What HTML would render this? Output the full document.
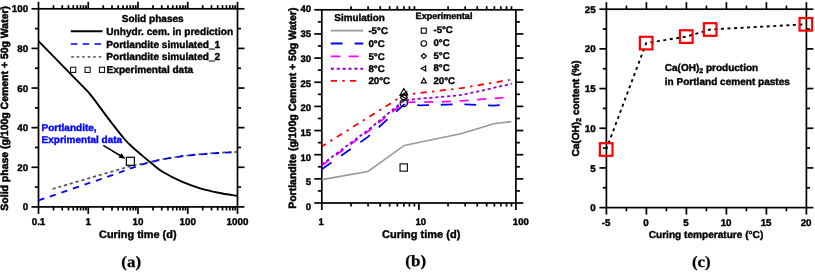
<!DOCTYPE html>
<html><head><meta charset="utf-8"><title>Figure</title>
<style>
html,body{margin:0;padding:0;background:#fff;}
svg{display:block;filter:blur(0.3px);}
.t{font-family:"Liberation Sans",Arial,Helvetica,sans-serif;font-weight:bold;stroke:#000;stroke-width:0.4px;text-rendering:geometricPrecision;}
.t[fill]{stroke:#0000ff;}
.t[transform^=rotate]{stroke-width:0.5px;}
.r{font-family:"Liberation Serif","Times New Roman",serif;font-weight:bold;stroke:#000;stroke-width:0.25px;text-rendering:geometricPrecision;}
</style></head><body>
<svg width="815" height="272" viewBox="0 0 815 272">
<rect width="815" height="272" fill="#fff"/>
<rect x="38.50" y="8.80" width="199.00" height="198.10" fill="none" stroke="#000" stroke-width="1.7"/>
<line x1="38.50" y1="206.90" x2="38.50" y2="213.90" stroke="#000" stroke-width="1.7" />
<line x1="38.50" y1="8.80" x2="38.50" y2="1.80" stroke="#000" stroke-width="1.7" />
<line x1="53.48" y1="206.90" x2="53.48" y2="210.50" stroke="#000" stroke-width="1.7" />
<line x1="53.48" y1="8.80" x2="53.48" y2="5.20" stroke="#000" stroke-width="1.7" />
<line x1="62.24" y1="206.90" x2="62.24" y2="210.50" stroke="#000" stroke-width="1.7" />
<line x1="62.24" y1="8.80" x2="62.24" y2="5.20" stroke="#000" stroke-width="1.7" />
<line x1="68.45" y1="206.90" x2="68.45" y2="210.50" stroke="#000" stroke-width="1.7" />
<line x1="68.45" y1="8.80" x2="68.45" y2="5.20" stroke="#000" stroke-width="1.7" />
<line x1="73.27" y1="206.90" x2="73.27" y2="210.50" stroke="#000" stroke-width="1.7" />
<line x1="73.27" y1="8.80" x2="73.27" y2="5.20" stroke="#000" stroke-width="1.7" />
<line x1="77.21" y1="206.90" x2="77.21" y2="210.50" stroke="#000" stroke-width="1.7" />
<line x1="77.21" y1="8.80" x2="77.21" y2="5.20" stroke="#000" stroke-width="1.7" />
<line x1="80.54" y1="206.90" x2="80.54" y2="210.50" stroke="#000" stroke-width="1.7" />
<line x1="80.54" y1="8.80" x2="80.54" y2="5.20" stroke="#000" stroke-width="1.7" />
<line x1="83.43" y1="206.90" x2="83.43" y2="210.50" stroke="#000" stroke-width="1.7" />
<line x1="83.43" y1="8.80" x2="83.43" y2="5.20" stroke="#000" stroke-width="1.7" />
<line x1="85.97" y1="206.90" x2="85.97" y2="210.50" stroke="#000" stroke-width="1.7" />
<line x1="85.97" y1="8.80" x2="85.97" y2="5.20" stroke="#000" stroke-width="1.7" />
<line x1="88.25" y1="206.90" x2="88.25" y2="213.90" stroke="#000" stroke-width="1.7" />
<line x1="88.25" y1="8.80" x2="88.25" y2="1.80" stroke="#000" stroke-width="1.7" />
<line x1="103.23" y1="206.90" x2="103.23" y2="210.50" stroke="#000" stroke-width="1.7" />
<line x1="103.23" y1="8.80" x2="103.23" y2="5.20" stroke="#000" stroke-width="1.7" />
<line x1="111.99" y1="206.90" x2="111.99" y2="210.50" stroke="#000" stroke-width="1.7" />
<line x1="111.99" y1="8.80" x2="111.99" y2="5.20" stroke="#000" stroke-width="1.7" />
<line x1="118.20" y1="206.90" x2="118.20" y2="210.50" stroke="#000" stroke-width="1.7" />
<line x1="118.20" y1="8.80" x2="118.20" y2="5.20" stroke="#000" stroke-width="1.7" />
<line x1="123.02" y1="206.90" x2="123.02" y2="210.50" stroke="#000" stroke-width="1.7" />
<line x1="123.02" y1="8.80" x2="123.02" y2="5.20" stroke="#000" stroke-width="1.7" />
<line x1="126.96" y1="206.90" x2="126.96" y2="210.50" stroke="#000" stroke-width="1.7" />
<line x1="126.96" y1="8.80" x2="126.96" y2="5.20" stroke="#000" stroke-width="1.7" />
<line x1="130.29" y1="206.90" x2="130.29" y2="210.50" stroke="#000" stroke-width="1.7" />
<line x1="130.29" y1="8.80" x2="130.29" y2="5.20" stroke="#000" stroke-width="1.7" />
<line x1="133.18" y1="206.90" x2="133.18" y2="210.50" stroke="#000" stroke-width="1.7" />
<line x1="133.18" y1="8.80" x2="133.18" y2="5.20" stroke="#000" stroke-width="1.7" />
<line x1="135.72" y1="206.90" x2="135.72" y2="210.50" stroke="#000" stroke-width="1.7" />
<line x1="135.72" y1="8.80" x2="135.72" y2="5.20" stroke="#000" stroke-width="1.7" />
<line x1="138.00" y1="206.90" x2="138.00" y2="213.90" stroke="#000" stroke-width="1.7" />
<line x1="138.00" y1="8.80" x2="138.00" y2="1.80" stroke="#000" stroke-width="1.7" />
<line x1="152.98" y1="206.90" x2="152.98" y2="210.50" stroke="#000" stroke-width="1.7" />
<line x1="152.98" y1="8.80" x2="152.98" y2="5.20" stroke="#000" stroke-width="1.7" />
<line x1="161.74" y1="206.90" x2="161.74" y2="210.50" stroke="#000" stroke-width="1.7" />
<line x1="161.74" y1="8.80" x2="161.74" y2="5.20" stroke="#000" stroke-width="1.7" />
<line x1="167.95" y1="206.90" x2="167.95" y2="210.50" stroke="#000" stroke-width="1.7" />
<line x1="167.95" y1="8.80" x2="167.95" y2="5.20" stroke="#000" stroke-width="1.7" />
<line x1="172.77" y1="206.90" x2="172.77" y2="210.50" stroke="#000" stroke-width="1.7" />
<line x1="172.77" y1="8.80" x2="172.77" y2="5.20" stroke="#000" stroke-width="1.7" />
<line x1="176.71" y1="206.90" x2="176.71" y2="210.50" stroke="#000" stroke-width="1.7" />
<line x1="176.71" y1="8.80" x2="176.71" y2="5.20" stroke="#000" stroke-width="1.7" />
<line x1="180.04" y1="206.90" x2="180.04" y2="210.50" stroke="#000" stroke-width="1.7" />
<line x1="180.04" y1="8.80" x2="180.04" y2="5.20" stroke="#000" stroke-width="1.7" />
<line x1="182.93" y1="206.90" x2="182.93" y2="210.50" stroke="#000" stroke-width="1.7" />
<line x1="182.93" y1="8.80" x2="182.93" y2="5.20" stroke="#000" stroke-width="1.7" />
<line x1="185.47" y1="206.90" x2="185.47" y2="210.50" stroke="#000" stroke-width="1.7" />
<line x1="185.47" y1="8.80" x2="185.47" y2="5.20" stroke="#000" stroke-width="1.7" />
<line x1="187.75" y1="206.90" x2="187.75" y2="213.90" stroke="#000" stroke-width="1.7" />
<line x1="187.75" y1="8.80" x2="187.75" y2="1.80" stroke="#000" stroke-width="1.7" />
<line x1="202.73" y1="206.90" x2="202.73" y2="210.50" stroke="#000" stroke-width="1.7" />
<line x1="202.73" y1="8.80" x2="202.73" y2="5.20" stroke="#000" stroke-width="1.7" />
<line x1="211.49" y1="206.90" x2="211.49" y2="210.50" stroke="#000" stroke-width="1.7" />
<line x1="211.49" y1="8.80" x2="211.49" y2="5.20" stroke="#000" stroke-width="1.7" />
<line x1="217.70" y1="206.90" x2="217.70" y2="210.50" stroke="#000" stroke-width="1.7" />
<line x1="217.70" y1="8.80" x2="217.70" y2="5.20" stroke="#000" stroke-width="1.7" />
<line x1="222.52" y1="206.90" x2="222.52" y2="210.50" stroke="#000" stroke-width="1.7" />
<line x1="222.52" y1="8.80" x2="222.52" y2="5.20" stroke="#000" stroke-width="1.7" />
<line x1="226.46" y1="206.90" x2="226.46" y2="210.50" stroke="#000" stroke-width="1.7" />
<line x1="226.46" y1="8.80" x2="226.46" y2="5.20" stroke="#000" stroke-width="1.7" />
<line x1="229.79" y1="206.90" x2="229.79" y2="210.50" stroke="#000" stroke-width="1.7" />
<line x1="229.79" y1="8.80" x2="229.79" y2="5.20" stroke="#000" stroke-width="1.7" />
<line x1="232.68" y1="206.90" x2="232.68" y2="210.50" stroke="#000" stroke-width="1.7" />
<line x1="232.68" y1="8.80" x2="232.68" y2="5.20" stroke="#000" stroke-width="1.7" />
<line x1="235.22" y1="206.90" x2="235.22" y2="210.50" stroke="#000" stroke-width="1.7" />
<line x1="235.22" y1="8.80" x2="235.22" y2="5.20" stroke="#000" stroke-width="1.7" />
<line x1="237.50" y1="206.90" x2="237.50" y2="213.90" stroke="#000" stroke-width="1.7" />
<line x1="237.50" y1="8.80" x2="237.50" y2="1.80" stroke="#000" stroke-width="1.7" />
<text class="t" x="38.50" y="225.10" font-size="9.8" text-anchor="middle">0.1</text>
<text class="t" x="88.25" y="225.10" font-size="9.8" text-anchor="middle">1</text>
<text class="t" x="138.00" y="225.10" font-size="9.8" text-anchor="middle">10</text>
<text class="t" x="187.75" y="225.10" font-size="9.8" text-anchor="middle">100</text>
<text class="t" x="237.50" y="225.10" font-size="9.8" text-anchor="middle">1000</text>
<line x1="38.50" y1="206.90" x2="31.50" y2="206.90" stroke="#000" stroke-width="1.7" />
<line x1="237.50" y1="206.90" x2="244.50" y2="206.90" stroke="#000" stroke-width="1.7" />
<text class="t" x="28.20" y="210.40" font-size="9.8" text-anchor="end">0</text>
<line x1="38.50" y1="187.09" x2="34.90" y2="187.09" stroke="#000" stroke-width="1.7" />
<line x1="237.50" y1="187.09" x2="241.10" y2="187.09" stroke="#000" stroke-width="1.7" />
<line x1="38.50" y1="167.28" x2="31.50" y2="167.28" stroke="#000" stroke-width="1.7" />
<line x1="237.50" y1="167.28" x2="244.50" y2="167.28" stroke="#000" stroke-width="1.7" />
<text class="t" x="28.20" y="170.78" font-size="9.8" text-anchor="end">20</text>
<line x1="38.50" y1="147.47" x2="34.90" y2="147.47" stroke="#000" stroke-width="1.7" />
<line x1="237.50" y1="147.47" x2="241.10" y2="147.47" stroke="#000" stroke-width="1.7" />
<line x1="38.50" y1="127.66" x2="31.50" y2="127.66" stroke="#000" stroke-width="1.7" />
<line x1="237.50" y1="127.66" x2="244.50" y2="127.66" stroke="#000" stroke-width="1.7" />
<text class="t" x="28.20" y="131.16" font-size="9.8" text-anchor="end">40</text>
<line x1="38.50" y1="107.85" x2="34.90" y2="107.85" stroke="#000" stroke-width="1.7" />
<line x1="237.50" y1="107.85" x2="241.10" y2="107.85" stroke="#000" stroke-width="1.7" />
<line x1="38.50" y1="88.04" x2="31.50" y2="88.04" stroke="#000" stroke-width="1.7" />
<line x1="237.50" y1="88.04" x2="244.50" y2="88.04" stroke="#000" stroke-width="1.7" />
<text class="t" x="28.20" y="91.54" font-size="9.8" text-anchor="end">60</text>
<line x1="38.50" y1="68.23" x2="34.90" y2="68.23" stroke="#000" stroke-width="1.7" />
<line x1="237.50" y1="68.23" x2="241.10" y2="68.23" stroke="#000" stroke-width="1.7" />
<line x1="38.50" y1="48.42" x2="31.50" y2="48.42" stroke="#000" stroke-width="1.7" />
<line x1="237.50" y1="48.42" x2="244.50" y2="48.42" stroke="#000" stroke-width="1.7" />
<text class="t" x="28.20" y="51.92" font-size="9.8" text-anchor="end">80</text>
<line x1="38.50" y1="28.61" x2="34.90" y2="28.61" stroke="#000" stroke-width="1.7" />
<line x1="237.50" y1="28.61" x2="241.10" y2="28.61" stroke="#000" stroke-width="1.7" />
<line x1="38.50" y1="8.80" x2="31.50" y2="8.80" stroke="#000" stroke-width="1.7" />
<line x1="237.50" y1="8.80" x2="244.50" y2="8.80" stroke="#000" stroke-width="1.7" />
<text class="t" x="28.20" y="12.30" font-size="9.8" text-anchor="end">100</text>
<text class="t" x="8.00" y="108.30" font-size="10.47" text-anchor="middle" transform="rotate(-90 8.00 108.30)">Solid phase (g/100g Cement + 50g Water)</text>
<text class="t" x="137.80" y="238.10" font-size="10.9" text-anchor="middle">Curing time (d)</text>
<text class="r" transform="translate(131.20 266.60) scale(1.07 1)" font-size="15.8" text-anchor="middle">(a)</text>
<path d="M38.5,41.2 L88.6,92.3 L88.60,92.30 C89.92,94.02 93.70,98.88 96.50,102.60 C99.30,106.32 102.62,110.87 105.40,114.60 C108.18,118.33 110.03,120.93 113.20,125.00 C116.37,129.07 121.35,135.47 124.40,139.00 C127.45,142.53 128.47,143.38 131.50,146.20 C134.53,149.02 139.02,152.85 142.60,155.90 C146.18,158.95 149.53,161.77 153.00,164.50 C156.47,167.23 158.60,169.43 163.40,172.30 C168.20,175.17 175.68,179.03 181.80,181.70 C187.92,184.37 193.98,186.47 200.10,188.30 C206.22,190.13 212.30,191.43 218.50,192.70 C224.70,193.97 234.17,195.37 237.30,195.90" fill="none" stroke="#000" stroke-width="1.9"/>
<path d="M52.60,188.90 C65.13,185.25 112.70,171.20 127.80,167.00 C142.90,162.80 137.58,164.97 143.20,163.70 C148.82,162.43 154.17,160.77 161.50,159.40 C168.83,158.03 178.63,156.53 187.20,155.50 C195.77,154.47 204.55,153.80 212.90,153.20 C221.25,152.60 233.23,152.12 237.30,151.90" fill="none" stroke="#555" stroke-width="1.7" stroke-dasharray="3.2 2.8"/>
<path d="M38.50,200.40 C49.95,196.48 91.95,182.18 107.20,176.90 C122.45,171.62 124.00,170.82 130.00,168.70 C136.00,166.58 137.95,165.72 143.20,164.20 C148.45,162.68 154.17,161.02 161.50,159.60 C168.83,158.18 178.63,156.73 187.20,155.70 C195.77,154.67 204.55,154.00 212.90,153.40 C221.25,152.80 233.23,152.32 237.30,152.10" fill="none" stroke="#0000ff" stroke-width="1.8" stroke-dasharray="6.2 5.9"/>
<rect x="126.40" y="157.30" width="8.00" height="8.00" fill="#fff" stroke="#000" stroke-width="1.2"/>
<line x1="103.30" y1="145.40" x2="122.50" y2="157.00" stroke="#000" stroke-width="1.5" />
<polygon points="125.6,158.8 118.6,157.7 121.4,153.2" fill="#000"/>
<text class="t" x="41.60" y="131.10" font-size="10" text-anchor="start" fill="#0000ff">Portlandite,</text>
<text class="t" x="41.60" y="142.90" font-size="10" text-anchor="start" fill="#0000ff">Exprimental data</text>
<text class="t" x="152.70" y="21.90" font-size="10.05" text-anchor="middle">Solid phases</text>
<text class="t" x="106.30" y="34.90" font-size="10.1" text-anchor="start">Unhydr. cem. in prediction</text>
<text class="t" x="106.30" y="47.50" font-size="10.1" text-anchor="start">Portlandite simulated_1</text>
<text class="t" x="106.30" y="60.40" font-size="10.1" text-anchor="start">Portlandite simulated_2</text>
<text class="t" x="106.60" y="73.20" font-size="10.05" text-anchor="start">Experimental data</text>
<line x1="70.80" y1="31.20" x2="102.50" y2="31.20" stroke="#000" stroke-width="1.9" />
<line x1="70.80" y1="44.00" x2="102.50" y2="44.00" stroke="#0000ff" stroke-width="1.7" stroke-dasharray="6.7 5.1"/>
<line x1="71.20" y1="56.90" x2="102.50" y2="56.90" stroke="#666" stroke-width="1.7" stroke-dasharray="2.6 2.9"/>
<rect x="70.60" y="67.20" width="5.20" height="5.20" fill="none" stroke="#000" stroke-width="1.0"/>
<rect x="85.00" y="67.20" width="5.20" height="5.20" fill="none" stroke="#000" stroke-width="1.0"/>
<rect x="99.40" y="67.20" width="5.20" height="5.20" fill="none" stroke="#000" stroke-width="1.0"/>
<rect x="321.80" y="9.80" width="194.10" height="193.20" fill="none" stroke="#000" stroke-width="1.7"/>
<line x1="321.80" y1="203.00" x2="321.80" y2="210.00" stroke="#000" stroke-width="1.7" />
<line x1="351.01" y1="203.00" x2="351.01" y2="206.60" stroke="#000" stroke-width="1.7" />
<line x1="351.01" y1="9.80" x2="351.01" y2="6.20" stroke="#000" stroke-width="1.7" />
<line x1="368.10" y1="203.00" x2="368.10" y2="206.60" stroke="#000" stroke-width="1.7" />
<line x1="368.10" y1="9.80" x2="368.10" y2="6.20" stroke="#000" stroke-width="1.7" />
<line x1="380.23" y1="203.00" x2="380.23" y2="206.60" stroke="#000" stroke-width="1.7" />
<line x1="380.23" y1="9.80" x2="380.23" y2="6.20" stroke="#000" stroke-width="1.7" />
<line x1="389.64" y1="203.00" x2="389.64" y2="206.60" stroke="#000" stroke-width="1.7" />
<line x1="389.64" y1="9.80" x2="389.64" y2="6.20" stroke="#000" stroke-width="1.7" />
<line x1="397.32" y1="203.00" x2="397.32" y2="206.60" stroke="#000" stroke-width="1.7" />
<line x1="397.32" y1="9.80" x2="397.32" y2="6.20" stroke="#000" stroke-width="1.7" />
<line x1="403.82" y1="203.00" x2="403.82" y2="206.60" stroke="#000" stroke-width="1.7" />
<line x1="403.82" y1="9.80" x2="403.82" y2="6.20" stroke="#000" stroke-width="1.7" />
<line x1="409.44" y1="203.00" x2="409.44" y2="206.60" stroke="#000" stroke-width="1.7" />
<line x1="409.44" y1="9.80" x2="409.44" y2="6.20" stroke="#000" stroke-width="1.7" />
<line x1="414.41" y1="203.00" x2="414.41" y2="206.60" stroke="#000" stroke-width="1.7" />
<line x1="414.41" y1="9.80" x2="414.41" y2="6.20" stroke="#000" stroke-width="1.7" />
<line x1="418.85" y1="203.00" x2="418.85" y2="210.00" stroke="#000" stroke-width="1.7" />
<line x1="448.06" y1="203.00" x2="448.06" y2="206.60" stroke="#000" stroke-width="1.7" />
<line x1="448.06" y1="9.80" x2="448.06" y2="6.20" stroke="#000" stroke-width="1.7" />
<line x1="465.15" y1="203.00" x2="465.15" y2="206.60" stroke="#000" stroke-width="1.7" />
<line x1="465.15" y1="9.80" x2="465.15" y2="6.20" stroke="#000" stroke-width="1.7" />
<line x1="477.28" y1="203.00" x2="477.28" y2="206.60" stroke="#000" stroke-width="1.7" />
<line x1="477.28" y1="9.80" x2="477.28" y2="6.20" stroke="#000" stroke-width="1.7" />
<line x1="486.69" y1="203.00" x2="486.69" y2="206.60" stroke="#000" stroke-width="1.7" />
<line x1="486.69" y1="9.80" x2="486.69" y2="6.20" stroke="#000" stroke-width="1.7" />
<line x1="494.37" y1="203.00" x2="494.37" y2="206.60" stroke="#000" stroke-width="1.7" />
<line x1="494.37" y1="9.80" x2="494.37" y2="6.20" stroke="#000" stroke-width="1.7" />
<line x1="500.87" y1="203.00" x2="500.87" y2="206.60" stroke="#000" stroke-width="1.7" />
<line x1="500.87" y1="9.80" x2="500.87" y2="6.20" stroke="#000" stroke-width="1.7" />
<line x1="506.49" y1="203.00" x2="506.49" y2="206.60" stroke="#000" stroke-width="1.7" />
<line x1="506.49" y1="9.80" x2="506.49" y2="6.20" stroke="#000" stroke-width="1.7" />
<line x1="511.46" y1="203.00" x2="511.46" y2="206.60" stroke="#000" stroke-width="1.7" />
<line x1="511.46" y1="9.80" x2="511.46" y2="6.20" stroke="#000" stroke-width="1.7" />
<line x1="515.90" y1="203.00" x2="515.90" y2="210.00" stroke="#000" stroke-width="1.7" />
<text class="t" x="321.20" y="225.30" font-size="9.5" text-anchor="middle">1</text>
<text class="t" x="420.70" y="225.30" font-size="9.5" text-anchor="middle">10</text>
<text class="t" x="520.80" y="225.30" font-size="9.5" text-anchor="middle">100</text>
<line x1="321.80" y1="203.00" x2="314.30" y2="203.00" stroke="#000" stroke-width="1.7" />
<line x1="515.90" y1="203.00" x2="523.40" y2="203.00" stroke="#000" stroke-width="1.7" />
<text class="t" x="311.00" y="210.00" font-size="9.5" text-anchor="end">0</text>
<line x1="321.80" y1="190.93" x2="317.80" y2="190.93" stroke="#000" stroke-width="1.7" />
<line x1="515.90" y1="190.93" x2="519.90" y2="190.93" stroke="#000" stroke-width="1.7" />
<line x1="321.80" y1="178.85" x2="314.30" y2="178.85" stroke="#000" stroke-width="1.7" />
<line x1="515.90" y1="178.85" x2="523.40" y2="178.85" stroke="#000" stroke-width="1.7" />
<text class="t" x="311.00" y="185.30" font-size="9.5" text-anchor="end">5</text>
<line x1="321.80" y1="166.78" x2="317.80" y2="166.78" stroke="#000" stroke-width="1.7" />
<line x1="515.90" y1="166.78" x2="519.90" y2="166.78" stroke="#000" stroke-width="1.7" />
<line x1="321.80" y1="154.70" x2="314.30" y2="154.70" stroke="#000" stroke-width="1.7" />
<line x1="515.90" y1="154.70" x2="523.40" y2="154.70" stroke="#000" stroke-width="1.7" />
<text class="t" x="311.00" y="160.60" font-size="9.5" text-anchor="end">10</text>
<line x1="321.80" y1="142.62" x2="317.80" y2="142.62" stroke="#000" stroke-width="1.7" />
<line x1="515.90" y1="142.62" x2="519.90" y2="142.62" stroke="#000" stroke-width="1.7" />
<line x1="321.80" y1="130.55" x2="314.30" y2="130.55" stroke="#000" stroke-width="1.7" />
<line x1="515.90" y1="130.55" x2="523.40" y2="130.55" stroke="#000" stroke-width="1.7" />
<text class="t" x="311.00" y="135.90" font-size="9.5" text-anchor="end">15</text>
<line x1="321.80" y1="118.47" x2="317.80" y2="118.47" stroke="#000" stroke-width="1.7" />
<line x1="515.90" y1="118.47" x2="519.90" y2="118.47" stroke="#000" stroke-width="1.7" />
<line x1="321.80" y1="106.40" x2="314.30" y2="106.40" stroke="#000" stroke-width="1.7" />
<line x1="515.90" y1="106.40" x2="523.40" y2="106.40" stroke="#000" stroke-width="1.7" />
<text class="t" x="311.00" y="111.20" font-size="9.5" text-anchor="end">20</text>
<line x1="321.80" y1="94.33" x2="317.80" y2="94.33" stroke="#000" stroke-width="1.7" />
<line x1="515.90" y1="94.33" x2="519.90" y2="94.33" stroke="#000" stroke-width="1.7" />
<line x1="321.80" y1="82.25" x2="314.30" y2="82.25" stroke="#000" stroke-width="1.7" />
<line x1="515.90" y1="82.25" x2="523.40" y2="82.25" stroke="#000" stroke-width="1.7" />
<text class="t" x="311.00" y="86.50" font-size="9.5" text-anchor="end">25</text>
<line x1="321.80" y1="70.18" x2="317.80" y2="70.18" stroke="#000" stroke-width="1.7" />
<line x1="515.90" y1="70.18" x2="519.90" y2="70.18" stroke="#000" stroke-width="1.7" />
<line x1="321.80" y1="58.10" x2="314.30" y2="58.10" stroke="#000" stroke-width="1.7" />
<line x1="515.90" y1="58.10" x2="523.40" y2="58.10" stroke="#000" stroke-width="1.7" />
<text class="t" x="311.00" y="61.80" font-size="9.5" text-anchor="end">30</text>
<line x1="321.80" y1="46.03" x2="317.80" y2="46.03" stroke="#000" stroke-width="1.7" />
<line x1="515.90" y1="46.03" x2="519.90" y2="46.03" stroke="#000" stroke-width="1.7" />
<line x1="321.80" y1="33.95" x2="314.30" y2="33.95" stroke="#000" stroke-width="1.7" />
<line x1="515.90" y1="33.95" x2="523.40" y2="33.95" stroke="#000" stroke-width="1.7" />
<text class="t" x="311.00" y="37.10" font-size="9.5" text-anchor="end">35</text>
<line x1="321.80" y1="21.88" x2="317.80" y2="21.88" stroke="#000" stroke-width="1.7" />
<line x1="515.90" y1="21.88" x2="519.90" y2="21.88" stroke="#000" stroke-width="1.7" />
<line x1="321.80" y1="9.80" x2="314.30" y2="9.80" stroke="#000" stroke-width="1.7" />
<line x1="515.90" y1="9.80" x2="523.40" y2="9.80" stroke="#000" stroke-width="1.7" />
<text class="t" x="311.00" y="12.40" font-size="9.5" text-anchor="end">40</text>
<text class="t" x="296.20" y="108.20" font-size="10.5" text-anchor="middle" transform="rotate(-90 296.20 108.20)">Portlandite (g/100g Cement + 50g Water)</text>
<text class="t" x="421.20" y="237.70" font-size="11.0" text-anchor="middle">Curing time (d)</text>
<text class="r" transform="translate(415.70 266.40) scale(1.07 1)" font-size="15.8" text-anchor="middle">(b)</text>
<polyline points="321.80,179.60 367.90,171.50 404.30,145.40 461.80,133.50 493.80,123.80 511.40,121.60" fill="none" stroke="#999" stroke-width="1.6" />
<polyline points="321.80,169.30 367.90,136.90 404.00,104.60 420.00,105.30 447.00,104.60 461.50,104.20 493.80,105.70 502.00,104.80" fill="none" stroke="#0000ff" stroke-width="1.8" stroke-dasharray="11.8 11.8" />
<polyline points="321.80,165.60 367.90,131.60 404.00,102.40 445.00,101.70 461.50,100.80 503.50,97.70" fill="none" stroke="#ff00ff" stroke-width="1.8" stroke-dasharray="9.1 8.6" />
<polyline points="321.80,164.50 367.90,130.20 404.00,100.40 422.20,98.50 446.50,96.50 460.00,95.20 476.20,91.90 511.80,83.70" fill="none" stroke="#9400d3" stroke-width="1.8" stroke-dasharray="3.1 2.8" />
<polyline points="321.80,146.50 404.30,94.80 461.50,88.10 509.60,79.80" fill="none" stroke="#ff0000" stroke-width="1.8" stroke-dasharray="6.2 5.3 2.4 5.3" stroke-dashoffset="1.4"/>
<rect x="400.05" y="163.85" width="7.30" height="7.30" fill="none" stroke="#000" stroke-width="1.1"/>
<circle cx="403.8" cy="103.0" r="3.7" fill="none" stroke="#000" stroke-width="1.2"/>
<polygon points="403.8,93.6 407.2,97.4 403.8,101.2 400.40000000000003,97.4" fill="none" stroke="#000" stroke-width="1.1"/>
<polygon points="400.2,95.5 406.8,92 406.8,99" fill="none" stroke="#000" stroke-width="1.1"/>
<polygon points="403.8,88.6 407.5,94.8 400.1,94.8" fill="none" stroke="#000" stroke-width="1.2"/>
<text class="t" x="359.60" y="20.60" font-size="9.9" text-anchor="middle">Simulation</text>
<line x1="330.80" y1="30.60" x2="363.20" y2="30.60" stroke="#999" stroke-width="1.6" />
<text class="t" x="368.40" y="34.10" font-size="9.7" text-anchor="start">-5°C</text>
<line x1="330.80" y1="43.50" x2="363.20" y2="43.50" stroke="#0000ff" stroke-width="1.8" stroke-dasharray="11.8 12.1"/>
<text class="t" x="368.40" y="47.00" font-size="9.7" text-anchor="start">0°C</text>
<line x1="330.80" y1="56.30" x2="363.20" y2="56.30" stroke="#ff00ff" stroke-width="1.8" stroke-dasharray="9.8 8.2"/>
<text class="t" x="368.40" y="59.80" font-size="9.7" text-anchor="start">5°C</text>
<line x1="330.80" y1="68.75" x2="363.20" y2="68.75" stroke="#9400d3" stroke-width="1.8" stroke-dasharray="3.1 2.8"/>
<text class="t" x="368.40" y="72.25" font-size="9.7" text-anchor="start">8°C</text>
<line x1="330.80" y1="80.85" x2="356.20" y2="80.85" stroke="#ff0000" stroke-width="1.8" stroke-dasharray="6.2 5.3 2.4 5.3"/>
<text class="t" x="368.40" y="84.35" font-size="9.7" text-anchor="start">20°C</text>
<text class="t" x="415.60" y="18.60" font-size="9.05" text-anchor="start">Experimental</text>
<text class="t" x="433.50" y="33.40" font-size="9.6" text-anchor="start">-5°C</text>
<text class="t" x="433.50" y="46.40" font-size="9.6" text-anchor="start">0°C</text>
<text class="t" x="433.50" y="59.00" font-size="9.6" text-anchor="start">5°C</text>
<text class="t" x="433.50" y="71.40" font-size="9.6" text-anchor="start">8°C</text>
<text class="t" x="433.50" y="83.80" font-size="9.6" text-anchor="start">20°C</text>
<rect x="421.30" y="28.20" width="5.00" height="5.00" fill="none" stroke="#000" stroke-width="1.1"/>
<circle cx="423.8" cy="43.5" r="2.8" fill="none" stroke="#000" stroke-width="1.1"/>
<polygon points="423.8,53.6 426.3,56.1 423.8,58.6 421.3,56.1" fill="none" stroke="#000" stroke-width="1.25"/>
<polygon points="421.2,68.5 425.7,66.0 425.7,71.0" fill="none" stroke="#000" stroke-width="1.2"/>
<polygon points="423.8,78.30000000000001 426.3,82.80000000000001 421.3,82.80000000000001" fill="none" stroke="#000" stroke-width="1.2"/>
<rect x="606.40" y="9.20" width="200.00" height="198.40" fill="none" stroke="#000" stroke-width="1.7"/>
<line x1="606.40" y1="207.60" x2="606.40" y2="214.60" stroke="#000" stroke-width="1.7" />
<line x1="606.40" y1="9.20" x2="606.40" y2="2.20" stroke="#000" stroke-width="1.7" />
<text class="t" x="606.10" y="225.70" font-size="9.8" text-anchor="middle">-5</text>
<line x1="626.40" y1="207.60" x2="626.40" y2="211.20" stroke="#000" stroke-width="1.7" />
<line x1="626.40" y1="9.20" x2="626.40" y2="5.60" stroke="#000" stroke-width="1.7" />
<line x1="646.40" y1="207.60" x2="646.40" y2="214.60" stroke="#000" stroke-width="1.7" />
<line x1="646.40" y1="9.20" x2="646.40" y2="2.20" stroke="#000" stroke-width="1.7" />
<text class="t" x="646.10" y="225.70" font-size="9.8" text-anchor="middle">0</text>
<line x1="666.40" y1="207.60" x2="666.40" y2="211.20" stroke="#000" stroke-width="1.7" />
<line x1="666.40" y1="9.20" x2="666.40" y2="5.60" stroke="#000" stroke-width="1.7" />
<line x1="686.40" y1="207.60" x2="686.40" y2="214.60" stroke="#000" stroke-width="1.7" />
<line x1="686.40" y1="9.20" x2="686.40" y2="2.20" stroke="#000" stroke-width="1.7" />
<text class="t" x="686.10" y="225.70" font-size="9.8" text-anchor="middle">5</text>
<line x1="706.40" y1="207.60" x2="706.40" y2="211.20" stroke="#000" stroke-width="1.7" />
<line x1="706.40" y1="9.20" x2="706.40" y2="5.60" stroke="#000" stroke-width="1.7" />
<line x1="726.40" y1="207.60" x2="726.40" y2="214.60" stroke="#000" stroke-width="1.7" />
<line x1="726.40" y1="9.20" x2="726.40" y2="2.20" stroke="#000" stroke-width="1.7" />
<text class="t" x="726.10" y="225.70" font-size="9.8" text-anchor="middle">10</text>
<line x1="746.40" y1="207.60" x2="746.40" y2="211.20" stroke="#000" stroke-width="1.7" />
<line x1="746.40" y1="9.20" x2="746.40" y2="5.60" stroke="#000" stroke-width="1.7" />
<line x1="766.40" y1="207.60" x2="766.40" y2="214.60" stroke="#000" stroke-width="1.7" />
<line x1="766.40" y1="9.20" x2="766.40" y2="2.20" stroke="#000" stroke-width="1.7" />
<text class="t" x="766.10" y="225.70" font-size="9.8" text-anchor="middle">15</text>
<line x1="786.40" y1="207.60" x2="786.40" y2="211.20" stroke="#000" stroke-width="1.7" />
<line x1="786.40" y1="9.20" x2="786.40" y2="5.60" stroke="#000" stroke-width="1.7" />
<line x1="806.40" y1="207.60" x2="806.40" y2="214.60" stroke="#000" stroke-width="1.7" />
<line x1="806.40" y1="9.20" x2="806.40" y2="2.20" stroke="#000" stroke-width="1.7" />
<text class="t" x="806.10" y="225.70" font-size="9.8" text-anchor="middle">20</text>
<line x1="606.40" y1="207.60" x2="599.40" y2="207.60" stroke="#000" stroke-width="1.7" />
<line x1="806.40" y1="207.60" x2="813.40" y2="207.60" stroke="#000" stroke-width="1.7" />
<text class="t" x="595.60" y="211.20" font-size="9.8" text-anchor="end">0</text>
<line x1="606.40" y1="187.76" x2="602.80" y2="187.76" stroke="#000" stroke-width="1.7" />
<line x1="806.40" y1="187.76" x2="810.00" y2="187.76" stroke="#000" stroke-width="1.7" />
<line x1="606.40" y1="167.92" x2="599.40" y2="167.92" stroke="#000" stroke-width="1.7" />
<line x1="806.40" y1="167.92" x2="813.40" y2="167.92" stroke="#000" stroke-width="1.7" />
<text class="t" x="595.60" y="171.52" font-size="9.8" text-anchor="end">5</text>
<line x1="606.40" y1="148.08" x2="602.80" y2="148.08" stroke="#000" stroke-width="1.7" />
<line x1="806.40" y1="148.08" x2="810.00" y2="148.08" stroke="#000" stroke-width="1.7" />
<line x1="606.40" y1="128.24" x2="599.40" y2="128.24" stroke="#000" stroke-width="1.7" />
<line x1="806.40" y1="128.24" x2="813.40" y2="128.24" stroke="#000" stroke-width="1.7" />
<text class="t" x="595.60" y="131.84" font-size="9.8" text-anchor="end">10</text>
<line x1="606.40" y1="108.40" x2="602.80" y2="108.40" stroke="#000" stroke-width="1.7" />
<line x1="806.40" y1="108.40" x2="810.00" y2="108.40" stroke="#000" stroke-width="1.7" />
<line x1="606.40" y1="88.56" x2="599.40" y2="88.56" stroke="#000" stroke-width="1.7" />
<line x1="806.40" y1="88.56" x2="813.40" y2="88.56" stroke="#000" stroke-width="1.7" />
<text class="t" x="595.60" y="92.16" font-size="9.8" text-anchor="end">15</text>
<line x1="606.40" y1="68.72" x2="602.80" y2="68.72" stroke="#000" stroke-width="1.7" />
<line x1="806.40" y1="68.72" x2="810.00" y2="68.72" stroke="#000" stroke-width="1.7" />
<line x1="606.40" y1="48.88" x2="599.40" y2="48.88" stroke="#000" stroke-width="1.7" />
<line x1="806.40" y1="48.88" x2="813.40" y2="48.88" stroke="#000" stroke-width="1.7" />
<text class="t" x="595.60" y="52.48" font-size="9.8" text-anchor="end">20</text>
<line x1="606.40" y1="29.04" x2="602.80" y2="29.04" stroke="#000" stroke-width="1.7" />
<line x1="806.40" y1="29.04" x2="810.00" y2="29.04" stroke="#000" stroke-width="1.7" />
<line x1="606.40" y1="9.20" x2="599.40" y2="9.20" stroke="#000" stroke-width="1.7" />
<line x1="806.40" y1="9.20" x2="813.40" y2="9.20" stroke="#000" stroke-width="1.7" />
<text class="t" x="595.60" y="12.80" font-size="9.8" text-anchor="end">25</text>
<text class="t" x="578.8" y="108.4" font-size="10.05" text-anchor="middle" transform="rotate(-90 578.8 108.4)">Ca(OH)<tspan font-size="7" dy="2">2</tspan><tspan dy="-2"> content (%)</tspan></text>
<text class="t" x="706.00" y="238.30" font-size="10.1" text-anchor="middle">Curing temperature (°C)</text>
<text class="r" transform="translate(701.30 266.50) scale(1.07 1)" font-size="15.8" text-anchor="middle">(c)</text>
<polyline points="606.20,149.50 646.20,43.10 686.30,36.60 710.20,29.50 805.90,24.30" fill="none" stroke="#000" stroke-width="1.9" stroke-dasharray="3 3.55" />
<rect x="599.90" y="143.20" width="12.60" height="12.60" fill="none" stroke="#ff0000" stroke-width="2.2"/>
<rect x="639.90" y="36.80" width="12.60" height="12.60" fill="none" stroke="#ff0000" stroke-width="2.2"/>
<rect x="680.00" y="30.30" width="12.60" height="12.60" fill="none" stroke="#ff0000" stroke-width="2.2"/>
<rect x="703.90" y="23.20" width="12.60" height="12.60" fill="none" stroke="#ff0000" stroke-width="2.2"/>
<rect x="799.60" y="18.00" width="12.60" height="12.60" fill="none" stroke="#ff0000" stroke-width="2.2"/>
<text class="t" x="664.8" y="71.4" font-size="10">Ca(OH)<tspan font-size="7" dy="2">2</tspan><tspan dy="-2"> production</tspan></text>
<text class="t" x="664.80" y="84.50" font-size="10.05" text-anchor="start">in Portland cement pastes</text>
</svg>
</body></html>
